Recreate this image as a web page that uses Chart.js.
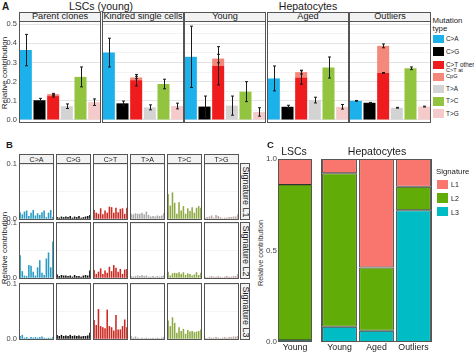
<!DOCTYPE html>
<html lang="en">
<head>
<meta charset="UTF-8">
<title>Mutation spectra and signatures</title>
<style>
  body { margin: 0; background: #fff; font-family: 'Liberation Sans', Arial, sans-serif; }
  #fig { position: relative; width: 474px; height: 353px; overflow: hidden; background: #fff; }
  #fig canvas { position: absolute; }
  .t { position: absolute; white-space: nowrap; color: #1a1a1a; line-height: 1; }
  .strip { position: absolute; box-sizing: border-box; border: 1px solid #555; background: #f2f2f2; overflow: hidden; }
  .strip span { position: absolute; left: 50%; top: 50%; white-space: nowrap; line-height: 1; color: #1a1a1a; }
  .key { position: absolute; }
</style>
</head>
<body>
<div id="fig"></div>
<script src="https://cdn.jsdelivr.net/npm/chart.js"></script>
<script>
// ---- data: panel A (mean and sd per mutation type) ----
// order: C>A, C>G, C>T other, C>T at CpG, T>A, T>C, T>G
const mutTypes = ['C>A', 'C>G', 'C>T', 'T>A', 'T>C', 'T>G'];
const groupsA = ['Parent clones', 'Kindred single cells', 'Young', 'Aged', 'Outliers'];
const parentMean  = [0.365, 0.103, 0.125, 0.010, 0.072, 0.225, 0.093];
const parentSd    = [0.082, 0.010, 0.005, 0.004, 0.012, 0.052, 0.017];
const kindredMean = [0.352, 0.087, 0.208, 0.014, 0.066, 0.188, 0.073];
const kindredSd   = [0.075, 0.012, 0.030, 0.006, 0.013, 0.025, 0.015];
const youngMean   = [0.330, 0.070, 0.283, 0.038, 0.075, 0.148, 0.042];
const youngSd     = [0.160, 0.055, 0.100, 0.022, 0.050, 0.052, 0.022];
const agedMean    = [0.217, 0.069, 0.222, 0.028, 0.104, 0.274, 0.069];
const agedSd      = [0.065, 0.008, 0.035, 0.010, 0.015, 0.055, 0.012];
const outlierMean = [0.100, 0.090, 0.246, 0.141, 0.064, 0.270, 0.070];
const outlierSd   = [0.002, 0.002, 0.002, 0.010, 0.002, 0.007, 0.002];
const ticksA = [0, 0.05, 0.1, 0.15, 0.2, 0.25, 0.3, 0.35, 0.4, 0.45, 0.5];

// ---- data: panel B (96-trinucleotide profiles of three signatures) ----
const contexts = ['A.A', 'A.C', 'A.G', 'A.T', 'C.A', 'C.C', 'C.G', 'C.T',
                  'G.A', 'G.C', 'G.G', 'G.T', 'T.A', 'T.C', 'T.G', 'T.T'];
const signatureNames = ['Signature L1', 'Signature L2', 'Signature L3'];
const sigL1 = [
  [0.013, 0.009, 0.014, 0.016, 0.006, 0.012, 0.017, 0.007, 0.011, 0.008, 0.013, 0.016, 0.004, 0.012, 0.017, 0.004],
  [0.004, 0.003, 0.005, 0.004, 0.005, 0.004, 0.006, 0.003, 0.005, 0.004, 0.006, 0.003, 0.004, 0.005, 0.006, 0.008],
  [0.017, 0.012, 0.010, 0.020, 0.009, 0.016, 0.012, 0.023, 0.022, 0.012, 0.021, 0.013, 0.019, 0.020, 0.010, 0.021],
  [0.010, 0.009, 0.011, 0.010, 0.010, 0.012, 0.009, 0.014, 0.008, 0.005, 0.006, 0.005, 0.007, 0.006, 0.007, 0.011],
  [0.046, 0.025, 0.049, 0.030, 0.010, 0.031, 0.016, 0.024, 0.010, 0.020, 0.015, 0.022, 0.012, 0.021, 0.024, 0.021],
  [0.003, 0.004, 0.005, 0.007, 0.003, 0.008, 0.006, 0.004, 0.002, 0.003, 0.003, 0.004, 0.004, 0.005, 0.005, 0.009]
];
const sigL2 = [
  [0.042, 0.013, 0.005, 0.004, 0.024, 0.023, 0.012, 0.005, 0.020, 0.033, 0.010, 0.006, 0.036, 0.047, 0.020, 0.067],
  [0.007, 0.004, 0.006, 0.005, 0.005, 0.004, 0.005, 0.003, 0.006, 0.004, 0.004, 0.003, 0.005, 0.006, 0.005, 0.014],
  [0.015, 0.008, 0.012, 0.018, 0.008, 0.014, 0.010, 0.021, 0.013, 0.024, 0.019, 0.012, 0.017, 0.008, 0.016, 0.017],
  [0.004, 0.003, 0.004, 0.005, 0.004, 0.006, 0.004, 0.005, 0.003, 0.003, 0.004, 0.003, 0.004, 0.003, 0.004, 0.005],
  [0.012, 0.005, 0.009, 0.010, 0.009, 0.011, 0.008, 0.011, 0.006, 0.009, 0.008, 0.005, 0.007, 0.011, 0.006, 0.010],
  [0.003, 0.002, 0.003, 0.004, 0.003, 0.003, 0.004, 0.003, 0.002, 0.003, 0.004, 0.003, 0.003, 0.004, 0.004, 0.008]
];
const sigL3 = [
  [0.006, 0.008, 0.003, 0.004, 0.002, 0.004, 0.003, 0.004, 0.003, 0.004, 0.005, 0.003, 0.002, 0.003, 0.002, 0.004],
  [0.008, 0.006, 0.008, 0.006, 0.007, 0.006, 0.008, 0.006, 0.007, 0.006, 0.007, 0.005, 0.006, 0.006, 0.007, 0.012],
  [0.035, 0.026, 0.055, 0.024, 0.022, 0.020, 0.054, 0.024, 0.022, 0.016, 0.044, 0.018, 0.018, 0.024, 0.036, 0.022],
  [0.006, 0.003, 0.005, 0.003, 0.002, 0.003, 0.002, 0.003, 0.002, 0.002, 0.003, 0.002, 0.003, 0.002, 0.003, 0.004],
  [0.034, 0.024, 0.040, 0.030, 0.012, 0.022, 0.015, 0.019, 0.010, 0.017, 0.014, 0.015, 0.013, 0.014, 0.015, 0.018],
  [0.003, 0.002, 0.004, 0.003, 0.003, 0.004, 0.003, 0.002, 0.003, 0.004, 0.003, 0.004, 0.004, 0.005, 0.005, 0.006]
];
const ticksB = [0, 0.05, 0.1];

// ---- data: panel C (signature contributions) ----
const lscSamples = ['Young'];
const hepSamples = ['Young', 'Aged', 'Outliers'];
const l1Frac = [0.140, 0.078, 0.593, 0.152];
const l2Frac = [0.850, 0.838, 0.345, 0.128];
const l3Frac = [0.010, 0.084, 0.062, 0.720];
const ticksC = [0, 0.5, 1];

// ---- colours ----
const colA = ['#1DB1EC', '#000000', '#EE1C1C', '#F4887A', '#D3D3D3', '#93C43F', '#F5CACA'];
const colB = ['#2A9CC4', '#111111', '#CC2A22', '#A9A9A9', '#8EAA44', '#BCA4A4'];
const colC = ['#F8766D', '#62AC08', '#00BCC4'];

Chart.defaults.font.family = "'Liberation Sans', Arial, sans-serif";
Chart.defaults.color = '#444';

const fig = document.getElementById('fig');
const isMajor = v => Math.abs(v * 10 - Math.round(v * 10)) < 1e-6;

function txt(s, x, y, size, o = {}) {
  const d = document.createElement('div');
  d.className = 't';
  d.textContent = s;
  d.style.left = x + 'px';
  d.style.top = y + 'px';
  d.style.fontSize = size + 'px';
  if (o.bold) d.style.fontWeight = 'bold';
  if (o.color) d.style.color = o.color;
  const ax = o.align === 'left' ? '0' : '-50%';
  d.style.transform = 'translate(' + ax + ',-50%)' + (o.rot ? ' rotate(' + o.rot + 'deg)' : '');
  fig.appendChild(d);
}

function strip(s, x, y, w, h, size, rot) {
  const d = document.createElement('div');
  d.className = 'strip';
  Object.assign(d.style, { left: x + 'px', top: y + 'px', width: w + 'px', height: h + 'px' });
  const sp = document.createElement('span');
  sp.textContent = s;
  sp.style.fontSize = size + 'px';
  sp.style.transform = 'translate(-50%,-50%)' + (rot ? ' rotate(' + rot + 'deg)' : '');
  d.appendChild(sp);
  fig.appendChild(d);
}

function key(color, x, y, w, h) {
  const d = document.createElement('div');
  d.className = 'key';
  Object.assign(d.style, { left: x + 'px', top: y + 'px', width: w + 'px', height: h + 'px', background: color });
  fig.appendChild(d);
}

function panel(x, y, w, h, config) {
  const c = document.createElement('canvas');
  c.width = w;
  c.height = h;
  c.style.left = x + 'px';
  c.style.top = y + 'px';
  fig.appendChild(c);
  config.options.responsive = false;
  config.options.animation = false;
  config.options.events = [];
  return new Chart(c, config);
}

// keep every facet's plot area exactly where the canvas + padding puts it
function fixWidth(w) {
  return sc => {
    sc.width = w;
    sc.paddingTop = 0;
    sc.paddingBottom = 0;
    sc.paddingLeft = 0;
    sc.paddingRight = 0;
  };
}
function fixHeight(h) {
  return sc => {
    sc.height = h;
    sc.paddingTop = 0;
    sc.paddingBottom = 0;
    sc.paddingLeft = 0;
    sc.paddingRight = 0;
  };
}

// frame around each facet
const panelBox = {
  id: 'panelBox',
  afterDraw(chart) {
    const a = chart.chartArea, ctx = chart.ctx;
    ctx.save();
    ctx.strokeStyle = '#555';
    ctx.lineWidth = 1;
    ctx.strokeRect(Math.round(a.left) + 0.5, Math.round(a.top) + 0.5,
                   Math.round(a.right - a.left) - 1, Math.round(a.bottom - a.top) - 1);
    ctx.restore();
  }
};

// mean +/- sd whiskers on (stacked) bars
const errorBars = {
  id: 'errorBars',
  afterDatasetsDraw(chart) {
    const ctx = chart.ctx, y = chart.scales.y;
    const totals = [];
    ctx.save();
    ctx.strokeStyle = '#1a1a1a';
    ctx.lineWidth = 1;
    chart.data.datasets.forEach((ds, d) => {
      const meta = chart.getDatasetMeta(d);
      ds.data.forEach((v, i) => {
        if (v == null) return;
        totals[i] = (totals[i] || 0) + v;
        const sd = ds.err[i];
        if (sd == null) return;
        const bx = Math.round(meta.data[i].x) + 0.5;
        const y1 = y.getPixelForValue(totals[i] - sd);
        const y2 = y.getPixelForValue(totals[i] + sd);
        ctx.beginPath();
        ctx.moveTo(bx, y1); ctx.lineTo(bx, y2);
        ctx.moveTo(bx - 1.5, y1); ctx.lineTo(bx + 1.5, y1);
        ctx.moveTo(bx - 1.5, y2); ctx.lineTo(bx + 1.5, y2);
        ctx.stroke();
      });
    });
    ctx.restore();
  }
};

const noPlugins = { legend: { display: false }, tooltip: { enabled: false } };

// ================= Panel A =================
txt('A', 2, 7, 10, { bold: true, align: 'left' });
txt('LSCs (young)', 101, 6, 10.5);
txt('Hepatocytes', 308, 6, 10.5);
txt('Relative contribution', 5, 73, 8, { rot: -90, color: '#222' });

const meansA = [parentMean, kindredMean, youngMean, agedMean, outlierMean];
const sdsA = [parentSd, kindredSd, youngSd, agedSd, outlierSd];
const facetX = [19, 102, 184, 267, 349];
const facetW = 82;

meansA.forEach((m, i) => {
  const s = sdsA[i];
  const first = i === 0;
  const axisW = first ? facetX[0] : 0;
  const pad = 9;
  panel(first ? 0 : facetX[i], 21 - pad, axisW + facetW, 102 + 2 * pad, {
    type: 'bar',
    data: {
      labels: mutTypes,
      datasets: [
        { data: [m[0], m[1], m[2], m[4], m[5], m[6]], err: [s[0], s[1], s[2], s[4], s[5], s[6]],
          backgroundColor: [colA[0], colA[1], colA[2], colA[4], colA[5], colA[6]],
          barPercentage: 0.88, categoryPercentage: 1 },
        { data: [null, null, m[3], null, null, null], err: [null, null, s[3], null, null, null],
          backgroundColor: colA[3], barPercentage: 0.88, categoryPercentage: 1 }
      ]
    },
    options: {
      layout: { padding: { top: pad, bottom: pad, left: 0, right: 0 }, autoPadding: false },
      scales: {
        x: { display: false, stacked: true, offset: true },
        y: {
          stacked: true, min: -0.0157, max: 0.517,
          afterBuildTicks: sc => { sc.ticks = ticksA.map(v => ({ value: v })); },
          afterFit: fixWidth(axisW),
          border: { display: false },
          ticks: { display: first, font: { size: 7.5 }, color: '#444', padding: 2,
                   callback: v => isMajor(v) ? v.toFixed(1) : '' },
          grid: { drawTicks: false, color: c => isMajor(c.tick.value) ? '#e3e3e3' : '#f3f3f3' }
        }
      },
      plugins: noPlugins
    },
    plugins: [errorBars, panelBox]
  });
  strip(groupsA[i], facetX[i], 12, facetW, 10, 9.2);
});

// legend A
txt('Mutation', 432.5, 20.5, 7.8, { align: 'left' });
txt('type', 432.5, 28.8, 7.8, { align: 'left' });
const keyYA = [34.7, 47.2, 60.5, 72.6, 84.8, 97.1, 109.3];
const keyTextA = ['C>A', 'C>G', 'C>T other', null, 'T>A', 'T>C', 'T>G'];
keyYA.forEach((y, i) => {
  key(colA[i], 433, y, 10.5, 8.6);
  if (keyTextA[i]) txt(keyTextA[i], 446, y + 4.3, 6.4, { align: 'left' });
});
txt('C>T at', 446, 71.3, 5.6, { align: 'left' });
txt('CpG', 446, 76.6, 5.6, { align: 'left' });

// ================= Panel B =================
txt('B', 6, 144.5, 9.5, { bold: true, align: 'left' });
txt('Relative contribution', 5, 248, 8, { rot: -90, color: '#222' });

const signatures = [sigL1, sigL2, sigL3];
const colX = [19, 56, 93, 130, 167, 204];
const colW = 35;
const rowY = [163, 222, 283];
const rowH = 57;

signatures.forEach((sig, r) => {
  sig.forEach((vals, c) => {
    const first = c === 0;
    const axisW = first ? colX[0] : 0;
    const pad = 5;
    panel(first ? 0 : colX[c], rowY[r] - pad, axisW + colW, rowH + 2 * pad, {
      type: 'bar',
      data: {
        labels: contexts,
        datasets: [{ data: vals, backgroundColor: colB[c], barPercentage: 0.72, categoryPercentage: 1 }]
      },
      options: {
        layout: { padding: { top: pad, bottom: pad, left: 0, right: 0 }, autoPadding: false },
        scales: {
          x: { display: false, offset: true },
          y: {
            min: -0.0013, max: 0.1024,
            afterBuildTicks: sc => { sc.ticks = ticksB.map(v => ({ value: v })); },
            afterFit: fixWidth(axisW),
            border: { display: false },
            ticks: { display: first, font: { size: 7.5 }, color: '#444', padding: 2,
                     callback: v => isMajor(v) ? v.toFixed(1) : '' },
            grid: { drawTicks: false, color: cx => isMajor(cx.tick.value) ? '#e6e6e6' : '#f4f4f4' }
          }
        },
        plugins: noPlugins
      },
      plugins: [panelBox]
    });
  });
  strip(signatureNames[r], 239.5, rowY[r], 10.5, rowH, 9, 90);
});
mutTypes.forEach((m, c) => strip(m, colX[c], 154, colW, 9.5, 7));

// ================= Panel C =================
txt('C', 267, 145, 9.5, { bold: true, align: 'left' });
txt('LSCs', 294, 151, 10.5);
txt('Hepatocytes', 377, 151, 10.5);
txt('Relative contribution', 261, 253, 7.3, { rot: -90, color: '#333' });

function signatureChart(x, w, axisW, labels, from, barPct) {
  const n = labels.length;
  const sets = [l3Frac, l2Frac, l1Frac].map((arr, k) => ({
    data: arr.slice(from, from + n),
    backgroundColor: colC[2 - k],
    borderColor: '#333',
    borderWidth: 1,
    borderSkipped: false,
    barPercentage: barPct,
    categoryPercentage: 1
  }));
  panel(x, 150, axisW + w, 9 + 183 + 12, {
    type: 'bar',
    data: { labels: labels, datasets: sets },
    options: {
      layout: { padding: { top: 9, bottom: 0, left: 0, right: 0 }, autoPadding: false },
      scales: {
        x: {
          stacked: true, offset: true,
          afterFit: fixHeight(12),
          border: { display: false },
          grid: { display: false, drawTicks: false },
          ticks: { font: { size: 8.8 }, color: '#222', padding: 0, maxRotation: 0 }
        },
        y: {
          stacked: true, min: 0, max: 1,
          display: axisW > 0,
          afterBuildTicks: sc => { sc.ticks = ticksC.map(v => ({ value: v })); },
          afterFit: fixWidth(axisW),
          border: { display: false },
          grid: { display: false, drawTicks: false },
          ticks: { font: { size: 8 }, color: '#444', padding: 1, callback: v => v.toFixed(1) }
        }
      },
      plugins: noPlugins
    },
    plugins: [panelBox]
  });
}
signatureChart(262, 34, 16, lscSamples, 0, 1);
signatureChart(321, 111, 0, hepSamples, 1, 0.94);

// legend C
txt('Signature', 436, 171.7, 7.8, { align: 'left' });
['L1', 'L2', 'L3'].forEach((s, i) => {
  const y = 179.5 + i * 13.6;
  key(colC[i], 437, y, 10.5, 9.6);
  txt(s, 451, y + 4.8, 7, { align: 'left' });
});
</script>
</body>
</html>
